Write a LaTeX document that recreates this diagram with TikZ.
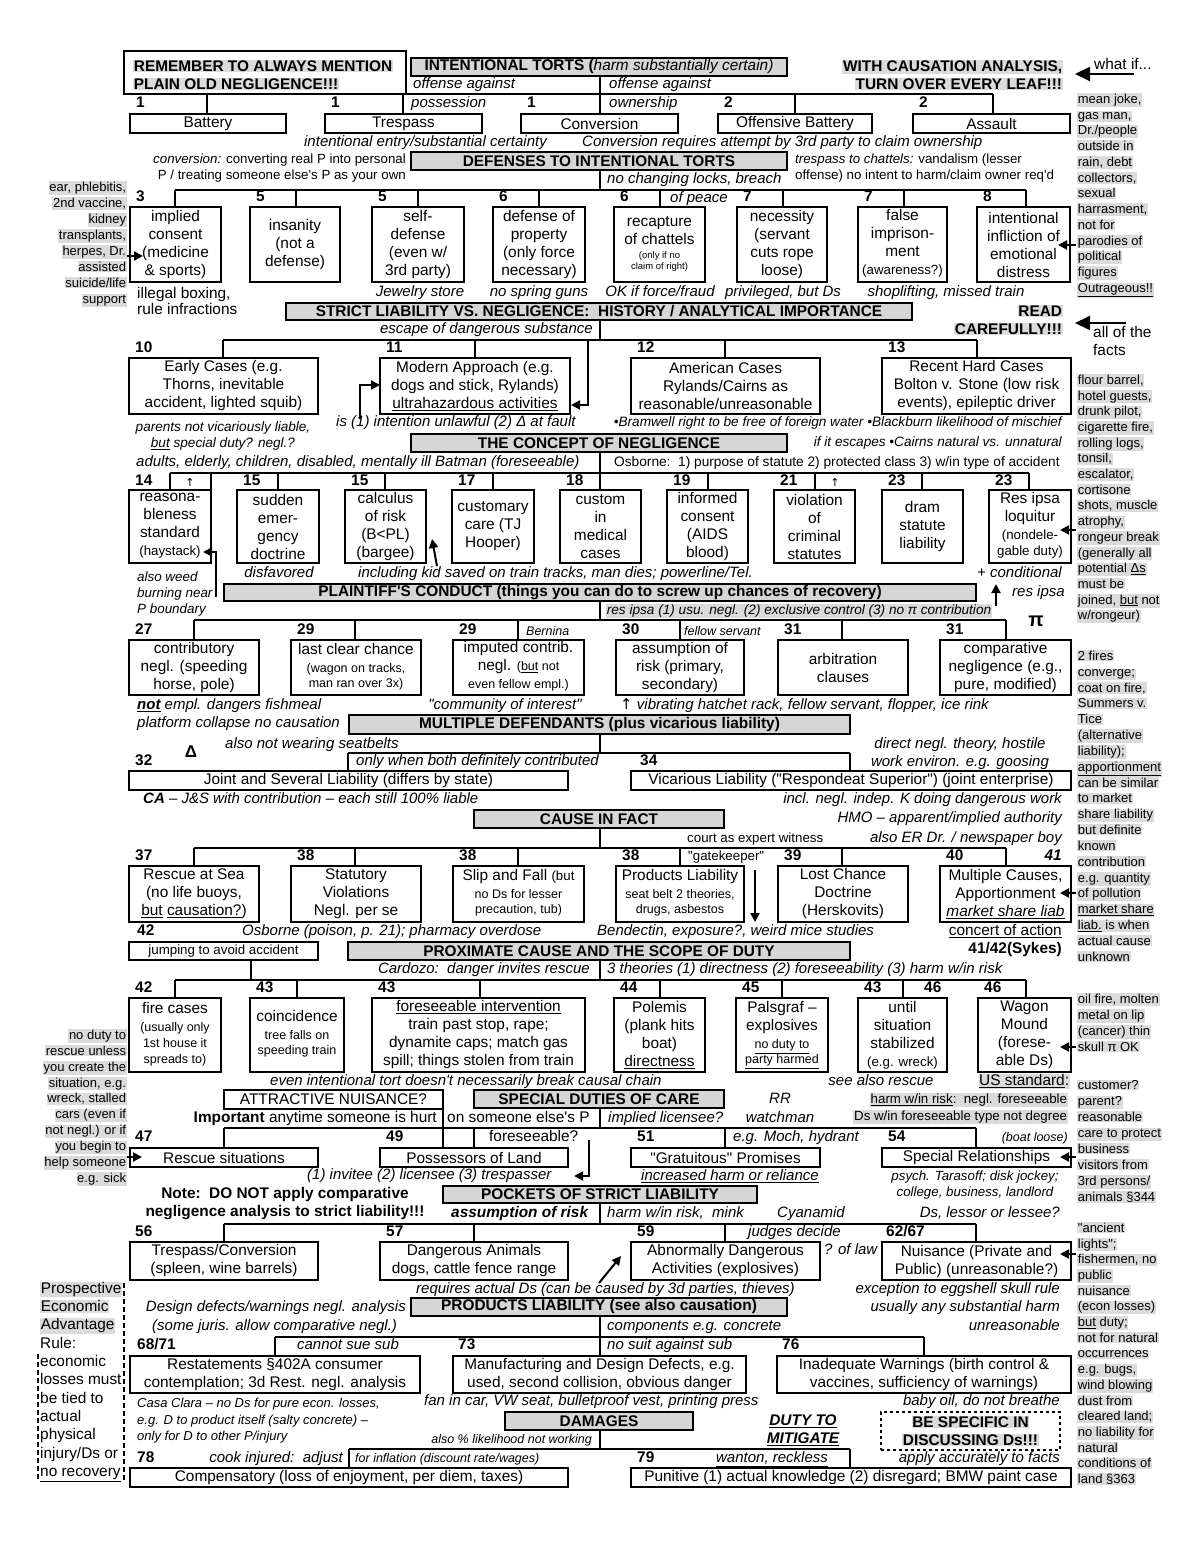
\documentclass[tikz,border=0pt]{standalone}
\usepackage{fontspec}
\setmainfont{Liberation Sans}
\newfontfamily\mydjv{DejaVu Sans}
\usetikzlibrary{arrows.meta}
\definecolor{hdr}{gray}{0.84}
\definecolor{hlg}{gray}{0.86}
\newcommand{\myfs}{\fontsize{15.4bp}{18bp}\selectfont}
\newcommand{\myfsi}{\fontsize{15bp}{18bp}\selectfont\itshape}
\newcommand{\myfsm}{\fontsize{12.5bp}{15bp}\selectfont}
\newcommand{\myfsk}{\fontsize{13.6bp}{16bp}\selectfont}
\newcommand{\myfsn}{\fontsize{13.3bp}{16bp}\selectfont}
\newcommand{\myfst}{\fontsize{9.5bp}{11bp}\selectfont}
\newcommand{\myfsr}{\fontsize{13bp}{15.7bp}\selectfont}
\newcommand{\hlt}[1]{{\setlength{\fboxsep}{0.7bp}\colorbox{hlg}{#1}}}
\newcommand{\uln}[1]{\underline{#1}}
\newcommand{\uparr}{{\mydjv ↑}}
\newcommand{\mysubstk}[2]{{#1\begin{tabular}[t]{@{}c@{}}#2\end{tabular}}}
\newcounter{lbc}
\newcommand{\mybx}[6]{\node[bxs, minimum width={(#4-#2)*1bp}, minimum height={(#5-#3)*1bp}] (#1) at ({(#2+#4)/2},{(#3+#5)/2}) {#6};}
\newcommand{\myhd}[6]{\node[hds, minimum width={(#4-#2)*1bp}, minimum height={(#5-#3)*1bp}] (#1) at ({(#2+#4)/2},{(#3+#5)/2}) {#6};}
\newcommand{\mylab}[4]{\stepcounter{lbc}\node[lab, anchor=#1] (lb\arabic{lbc}) at (#2,#3) {#4};}
\newcommand{\myup}[4]{\stepcounter{lbc}\node[labu, anchor=#1] (lb\arabic{lbc}) at (#2,#3) {#4};}
\newcommand{\mynm}[3]{\stepcounter{lbc}\node[num] (nm\arabic{lbc}) at (#1,#2) {#3};}
\newcommand{\myvl}[3]{\draw[ln] (#1,#2) -- (#1,#3);}
\newcommand{\myhz}[3]{\draw[ln] (#2,#1) -- (#3,#1);}
\newcommand{\mynotes}[6]{\foreach \myt [count=\myi from 0] in {#6} {\stepcounter{lbc}\node[inner sep=0pt, anchor=#1, font=#5, text height=9.5bp, text depth=2.8bp] (nt\arabic{lbc}) at (#2,{#3+\myi*#4}) {\hlt{\myt}};}}
\newcommand{\mynotesp}[6]{\foreach \myt [count=\myi from 0] in {#6} {\stepcounter{lbc}\node[inner sep=0pt, anchor=#1, font=#5, text height=9.5bp, text depth=2.8bp] (nt\arabic{lbc}) at (#2,{#3+\myi*#4}) {\myt};}}
\begin{document}
\begin{tikzpicture}[x=1bp,y=-1bp, >={Triangle[length=9bp,width=9bp]},
 bxs/.style={draw, line width=2.3bp, inner sep=0pt, align=center, font=\myfs},
 hds/.style={draw, line width=2.7bp, fill=hdr, inner sep=0pt, align=center, font=\myfs\bfseries},
 lab/.style={inner sep=0pt, font=\myfsi, text height=10.5bp, text depth=3bp},
 labu/.style={inner sep=0pt, font=\myfs, text height=10.5bp, text depth=3bp},
 num/.style={inner sep=0pt, font=\myfs\bfseries, anchor=west, text height=10.5bp, text depth=3bp},
 ln/.style={line width=2bp},
 bigarrow/.style={line width=2bp, -{Triangle[length=15bp,width=14bp]}}]
\useasboundingbox[fill=white] (0,0) rectangle (1200,1553);

% ===== INTENTIONAL TORTS =====
\mybx{remember}{124}{51}{406}{94}{}
\node[inner sep=0pt, anchor=west, align=left, font=\myfs\bfseries] (remtxt) at (133,75) {\hlt{REMEMBER TO ALWAYS MENTION}\\\hlt{PLAIN OLD NEGLIGENCE!!!}};
\myhd{it}{411}{58}{787}{76}{INTENTIONAL TORTS (\textit{\mdseries harm substantially certain)}}
\node[inner sep=0pt, anchor=east, align=right, font=\myfs\bfseries] (wca) at (1063,75) {\hlt{WITH CAUSATION ANALYSIS,}\\\hlt{TURN OVER EVERY LEAF!!!}};
\myup{west}{1094}{66}{what if...}
\draw[bigarrow] (1134,74) -- (1075,74);
\mylab{west}{413}{85}{offense against}
\mylab{west}{609}{85}{offense against}
\myhz{94}{406}{993}
\myvl{207}{94}{114}\myvl{403}{94}{114}\myvl{600}{76}{114}\myvl{795}{94}{114}\myvl{993}{94}{114}
\mynm{136}{104}{1}\mynm{331}{104}{1}\mynm{527}{104}{1}\mynm{724}{104}{2}\mynm{919}{104}{2}
\mylab{west}{411}{104}{possession}
\mylab{west}{609}{104}{ownership}
\mybx{battery}{130}{114}{286}{133}{Battery}
\mybx{trespass}{325}{114}{482}{133}{Trespass}
\mybx{conversion}{521}{114}{678}{133}{Conversion}
\mybx{offbat}{718}{114}{872}{133}{Offensive Battery}
\mybx{assault}{913}{114}{1070}{133}{Assault}
\mylab{east}{547}{143}{intentional entry/substantial certainty}
\mylab{west}{582}{143}{Conversion requires attempt by 3rd party to claim ownership}

% ===== DEFENSES =====
\node[inner sep=0pt, anchor=east, align=right, font=\myfsn] (convnote) at (406,168) {\textit{conversion:} converting real P into personal\\P / treating someone else\textquotesingle s P as your own};
\myhd{def}{411}{152}{787}{170}{DEFENSES TO INTENTIONAL TORTS}
\node[inner sep=0pt, anchor=west, align=left, font=\myfsn] (trespnote) at (795,168) {\textit{trespass to chattels:} vandalism (lesser\\offense) no intent to harm/claim owner req\textquotesingle d};
\myvl{600}{170}{190}
\mylab{west}{607}{180}{no changing locks, breach}
\myhz{190}{175}{1026}
\myvl{175}{190}{207}\myvl{296}{190}{207}\myvl{418}{190}{207}\myvl{539}{190}{207}\myvl{660}{190}{207}\myvl{783}{190}{207}\myvl{904}{190}{207}\myvl{1026}{190}{207}
\mylab{west}{670}{199}{of peace}
\mynm{136}{198}{3}\mynm{256}{198}{5}\mynm{378}{198}{5}\mynm{499}{198}{6}\mynm{620}{198}{6}\mynm{743}{198}{7}\mynm{864}{198}{7}\mynm{983}{198}{8}
\mybx{implied}{130}{207}{221}{282}{implied\\consent\\(medicine\\\& sports)}
\mybx{insanity}{250}{207}{340}{282}{insanity\\(not a\\defense)}
\mybx{selfdef}{372}{207}{464}{282}{self-\\defense\\(even w/\\3rd party)}
\mybx{defprop}{493}{207}{585}{282}{defense of\\property\\(only force\\necessary)}
\mybx{recapture}{614}{207}{705}{282}{recapture\\of chattels\\[-4bp]\mysubstk{\myfst}{(only if no\\claim of right)}}
\mybx{necessity}{737}{207}{827}{282}{necessity\\(servant\\cuts rope\\loose)}
\mybx{falseimp}{858}{207}{947}{282}{false\\imprison-\\ment\\\mysubstk{\myfsn}{(awareness?)}}
\mybx{iied}{977}{207}{1070}{282}{intentional\\infliction of\\emotional\\distress}
\draw[ln,->] (126,256) -- (143,256);
\draw[ln,->] (1076,245) -- (1058,245);
\node[inner sep=0pt, anchor=west, align=left, font=\fontsize{15.4bp}{16bp}\selectfont] (boxing) at (137,301) {illegal boxing,\\rule infractions};
\mylab{center}{420}{293}{Jewelry store}
\mylab{center}{539}{293}{no spring guns}
\mylab{center}{660}{293}{OK if force/fraud}
\mylab{center}{783}{293}{privileged, but Ds}
\mylab{center}{946}{293}{shoplifting, missed train}

% ===== STRICT LIABILITY VS NEGLIGENCE =====
\myhd{slneg}{286}{303}{912}{320}{STRICT LIABILITY VS. NEGLIGENCE:\ \ HISTORY / ANALYTICAL IMPORTANCE}
\node[inner sep=0pt, anchor=east, align=right, font=\myfs\bfseries] (readc) at (1063,320) {\hlt{READ}\\\hlt{CAREFULLY!!!}};
\draw[bigarrow] (1126,323) -- (1075,323);
\node[inner sep=0pt, anchor=west, align=left, font=\myfs] (allfacts) at (1093,341) {all of the\\facts};
\mylab{east}{593}{330}{escape of dangerous substance}
\myvl{600}{320}{340}
\myhz{340}{223}{977}
\myvl{223}{340}{358}\myvl{475}{340}{358}\myvl{725}{340}{358}\myvl{977}{340}{358}
\mynm{135}{349}{10}\mynm{386}{349}{11}\mynm{637}{349}{12}\mynm{888}{349}{13}
\mybx{early}{129}{358}{318}{414}{Early Cases (e.g.\\Thorns, inevitable\\accident, lighted squib)}
\mybx{modern}{380}{358}{570}{414}{Modern Approach (e.g.\\dogs and stick, Rylands)\\\uln{ultrahazardous activities}}
\mybx{american}{631}{358}{820}{414}{American Cases\\Rylands/Cairns as\\reasonable/unreasonable}
\mybx{recent}{882}{358}{1071}{414}{Recent Hard Cases\\Bolton v. Stone (low risk\\events), epileptic driver}
\draw[ln,->] (588,340) -- (588,405) -- (571,405);
\draw[ln,->] (360,419) -- (360,385) -- (380,385);
\node[inner sep=0pt, align=center, font=\fontsize{13.6bp}{15.5bp}\selectfont\itshape] (parents) at (223,436) {parents not vicariously liable,\\\uln{but} special duty? negl.?};
\mylab{west}{336}{423}{is (1) intention unlawful (2) Δ at fault}
\node[inner sep=0pt, anchor=east, font=\myfsk\itshape] (bram) at (1062,423) {•Bramwell right to be free of foreign water •Blackburn likelihood of mischief};
\myhd{concept}{411}{434}{787}{452}{THE CONCEPT OF NEGLIGENCE}
\node[inner sep=0pt, anchor=east, font=\myfsk\itshape] (escapes) at (1062,443) {if it escapes •Cairns natural vs. unnatural};
\mylab{west}{136}{463}{adults, elderly, children, disabled, mentally ill Batman (foreseeable)}
\myvl{600}{452}{490}
\node[inner sep=0pt, anchor=west, font=\fontsize{13.7bp}{16bp}\selectfont] (osborne) at (614,463) {Osborne:\ \ 1) purpose of statute 2) protected class 3) w/in type of accident};
\myhz{473}{170}{1029}
\myvl{170}{473}{490}\myvl{211}{473}{490}\myvl{278}{473}{490}\myvl{385}{473}{490}\myvl{493}{473}{490}\myvl{708}{473}{490}\myvl{815}{473}{490}\myvl{922}{473}{490}\myvl{1029}{473}{490}
\node[inner sep=0pt, font=\fontsize{11bp}{11bp}\selectfont] (up1) at (190,482) {\uparr};
\node[inner sep=0pt, font=\fontsize{11bp}{11bp}\selectfont] (up2) at (835,482) {\uparr};
\mynm{135}{482}{14}\mynm{243}{482}{15}\mynm{351}{482}{15}\mynm{458}{482}{17}\mynm{566}{482}{18}\mynm{673}{482}{19}\mynm{780}{482}{21}\mynm{888}{482}{23}\mynm{995}{482}{23}
\mybx{reason}{129}{490}{211}{563}{reasona-\\bleness\\standard\\\mysubstk{\myfsn}{(haystack)}}
\mybx{sudden}{237}{490}{319}{563}{sudden\\emer-\\gency\\doctrine}
\mybx{calculus}{345}{490}{426}{563}{calculus\\of risk\\(B<PL)\\(bargee)}
\mybx{customary}{452}{490}{534}{563}{customary\\care (TJ\\Hooper)}
\mybx{custom}{560}{490}{641}{563}{custom\\in\\medical\\cases}
\mybx{informed}{667}{490}{748}{563}{informed\\consent\\(AIDS\\blood)}
\mybx{violation}{774}{490}{855}{563}{violation\\of\\criminal\\statutes}
\mybx{dram}{882}{490}{963}{563}{dram\\statute\\liability}
\mybx{resipsa}{989}{490}{1071}{563}{Res ipsa\\loquitur\\\mysubstk{\myfsn}{(nondele-\\gable duty)}}
\draw[ln,->] (216,597) -- (216,552) -- (203,552);
\draw[ln,->] (437,566) -- (432,539);
\draw[ln,->] (1076,530) -- (1060,530);
\mylab{center}{279}{574}{disfavored}
\mylab{west}{358}{574}{including kid saved on train tracks, man dies; powerline/Tel.}
\mylab{east}{1062}{574}{+ conditional}
\node[inner sep=0pt, anchor=west, align=left, font=\fontsize{13.4bp}{16bp}\selectfont\itshape] (weed) at (137,594) {also weed\\burning near\\P boundary};

% ===== PLAINTIFF'S CONDUCT =====
\myhd{pc}{224}{584}{976}{601}{PLAINTIFF\textquotesingle S CONDUCT (things you can do to screw up chances of recovery)}
\draw[ln,->] (996,606) -- (996,584);
\mylab{west}{1012}{593}{res ipsa}
\myvl{600}{601}{620}
\node[inner sep=0.7bp, anchor=west, fill=hlg, font=\myfsk\itshape] (resnote) at (606,611) {res ipsa (1) usu. negl. (2) exclusive control (3) no π contribution};
\node[inner sep=0pt, font=\fontsize{20bp}{20bp}\selectfont\bfseries] (pisym) at (1036,621) {π};
\myhz{620}{194}{1006}
\myvl{194}{620}{640}\myvl{355}{620}{640}\myvl{518}{620}{640}\myvl{680}{620}{640}\myvl{842}{620}{640}\myvl{1006}{620}{640}
\mynm{135}{631}{27}\mynm{297}{631}{29}\mynm{459}{631}{29}\mynm{622}{631}{30}\mynm{784}{631}{31}\mynm{946}{631}{31}
\node[inner sep=0pt, anchor=west, font=\myfsm\itshape] (bernina) at (526,631) {Bernina};
\node[inner sep=0pt, anchor=west, font=\myfsm\itshape] (fellow) at (684,631) {fellow servant};
\mybx{contrib}{129}{640}{259}{695}{contributory\\negl. (speeding\\horse, pole)}
\mybx{lastclear}{291}{640}{421}{695}{last clear chance\\\mysubstk{\myfsm}{(wagon on tracks,\\man ran over 3x)}}
\mybx{imputed}{453}{640}{584}{695}{imputed contrib.\\negl. {\myfsm(\uln{but} not}\\\mysubstk{\myfsm}{even fellow empl.)}}
\mybx{assumption}{616}{640}{744}{695}{assumption of\\risk (primary,\\secondary)}
\mybx{arbitration}{778}{640}{908}{695}{arbitration\\clauses}
\mybx{comparative}{940}{640}{1071}{695}{comparative\\negligence (e.g.,\\pure, modified)}
\node[inner sep=0pt, anchor=west, align=left, font=\myfsi] (fishmeal) at (137,715) {\uln{\textbf{not}} empl. dangers fishmeal\\platform collapse no causation};
\mylab{center}{505}{706}{\textquotedbl community of interest\textquotedbl}
\mylab{west}{620}{706}{\uparr\ vibrating hatchet rack, fellow servant, flopper, ice rink}

% ===== MULTIPLE DEFENDANTS =====
\myhd{md}{349}{715}{850}{734}{MULTIPLE DEFENDANTS (plus vicarious liability)}
\mylab{west}{225}{745}{also not wearing seatbelts}
\node[inner sep=0pt, font=\fontsize{17bp}{17bp}\selectfont\bfseries] (delta) at (191,752) {Δ};
\myvl{600}{734}{753}
\node[inner sep=0pt, align=center, font=\myfsi] (direct) at (960,754) {direct negl. theory, hostile\\work environ. e.g. goosing};
\myhz{753}{348}{850}
\myvl{348}{753}{771}\myvl{850}{753}{771}
\mynm{135}{762}{32}\mynm{640}{762}{34}
\mylab{west}{356}{762}{only when both definitely contributed}
\mybx{joint}{129}{771}{568}{790}{Joint and Several Liability (differs by state)}
\mybx{vicarious}{631}{771}{1071}{790}{Vicarious Liability (\textquotedbl Respondeat Superior\textquotedbl) (joint enterprise)}
\mylab{west}{143}{800}{\textbf{CA} -- J\&S with contribution -- each still 100\% liable}
\mylab{east}{1062}{800}{incl. negl. indep. K doing dangerous work}

% ===== CAUSE IN FACT =====
\myhd{cif}{474}{810}{724}{828}{CAUSE IN FACT}
\mylab{east}{1062}{819}{HMO -- apparent/implied authority}
\node[inner sep=0pt, anchor=west, font=\myfsn] (court) at (687,839) {court as expert witness};
\mylab{east}{1062}{839}{also ER Dr. / newspaper boy}
\myvl{600}{828}{848}
\myhz{848}{194}{1006}
\myvl{194}{848}{866}\myvl{355}{848}{866}\myvl{518}{848}{866}\myvl{680}{848}{866}\myvl{842}{848}{866}\myvl{1006}{848}{866}
\mynm{135}{857}{37}\mynm{297}{857}{38}\mynm{459}{857}{38}\mynm{622}{857}{38}\mynm{784}{857}{39}\mynm{946}{857}{40}
\node[inner sep=0pt, anchor=east, font=\myfs\bfseries\itshape, text height=10.5bp, text depth=3bp] (n41) at (1062,857) {41};
\node[inner sep=0pt, anchor=west, font=\myfsn] (gatek) at (688,857) {\textquotedbl gatekeeper\textquotedbl};
\mybx{rescsea}{129}{866}{259}{922}{Rescue at Sea\\(no life buoys,\\\uln{but} \uln{causation?})}
\mybx{statviol}{291}{866}{421}{922}{Statutory\\Violations\\Negl. per se}
\mybx{slip}{453}{866}{584}{922}{Slip and Fall {\myfsn(but}\\\mysubstk{\myfsm}{no Ds for lesser\\precaution, tub)}}
\mybx{prodliab}{616}{866}{744}{922}{Products Liability\\\mysubstk{\myfsm}{seat belt 2 theories,\\drugs, asbestos}}
\mybx{lostchance}{778}{866}{908}{922}{Lost Chance\\Doctrine\\(Herskovits)}
\mybx{multcause}{940}{866}{1071}{922}{Multiple Causes,\\Apportionment\\\textit{\uln{market share liab}}}
\draw[ln,->] (755,870) -- (755,922);
\draw[ln,->] (1076,893) -- (1060,893);
\mynm{137}{932}{42}
\mylab{west}{242}{932}{Osborne (poison, p. 21); pharmacy overdose}
\mylab{west}{597}{932}{Bendectin, exposure?, weird mice studies}
\myup{east}{1062}{932}{\uln{concert of action}}

% ===== PROXIMATE CAUSE =====
\mybx{jumping}{129}{942}{318}{960}{{\myfsn jumping to avoid accident}}
\myhd{pcsod}{348}{942}{850}{960}{PROXIMATE CAUSE AND THE SCOPE OF DUTY}
\node[inner sep=0pt, anchor=east, font=\myfs\bfseries] (sykes) at (1062,950) {41/42(Sykes)};
\myvl{251}{960}{980}\myvl{600}{960}{980}
\mylab{east}{590}{970}{Cardozo:\ \ danger invites rescue}
\mylab{west}{607}{970}{3 theories (1) directness (2) foreseeability (3) harm w/in risk}
\myhz{980}{175}{1026}
\myvl{175}{980}{998}\myvl{297}{980}{998}\myvl{480}{980}{998}\myvl{660}{980}{998}\myvl{782}{980}{998}\myvl{903}{980}{998}\myvl{1026}{980}{998}
\mynm{135}{989}{42}\mynm{256}{989}{43}\mynm{378}{989}{43}\mynm{620}{989}{44}\mynm{742}{989}{45}\mynm{864}{989}{43}\mynm{924}{989}{46}\mynm{984}{989}{46}
\mybx{fire}{129}{998}{221}{1072}{fire cases\\\mysubstk{\fontsize{12.5bp}{16bp}\selectfont}{(usually only\\1st house it\\spreads to)}}
\mybx{coinc}{250}{998}{344}{1072}{coincidence\\\mysubstk{\myfsm}{tree falls on\\speeding train}}
\mybx{foresee}{372}{998}{585}{1072}{\uln{foreseeable intervention}\\train past stop, rape;\\dynamite caps; match gas\\spill; things stolen from train}
\mybx{polemis}{614}{998}{705}{1072}{Polemis\\(plank hits\\boat)\\\uln{directness}}
\mybx{palsgraf}{736}{998}{828}{1072}{Palsgraf --\\explosives\\\mysubstk{\myfsm}{\uln{no duty to}\\\uln{party harmed}}}
\mybx{until}{858}{998}{947}{1072}{until\\situation\\stabilized\\{\myfsn(e.g. wreck)}}
\mybx{wagon}{978}{998}{1071}{1072}{Wagon\\Mound\\(forese-\\able Ds)}
\draw[ln,->] (1076,1047) -- (1060,1047);
\mylab{west}{270}{1082}{even intentional tort doesn\textquotesingle t necessarily break causal chain}
\mylab{center}{881}{1082}{see also rescue}
\myup{east}{1070}{1082}{\hlt{\uln{US standard}:}}

% ===== SPECIAL DUTIES =====
\mybx{attr}{224}{1090}{443}{1109}{ATTRACTIVE NUISANCE?}
\myhd{sdc}{474}{1090}{724}{1108}{SPECIAL DUTIES OF CARE}
\mylab{center}{780}{1100}{RR}
\mylab{center}{780}{1119}{watchman}
\node[inner sep=0pt, anchor=east, font=\myfsn] (harmrisk) at (1068,1100) {\hlt{\uln{harm w/in risk}:\ \ negl. foreseeable}};
\node[inner sep=0pt, anchor=east, font=\myfsn] (dswin) at (1068,1117) {\hlt{Ds w/in foreseeable type not degree}};
\myup{east}{437}{1119}{\textbf{Important} anytime someone is hurt}
\myup{west}{447}{1119}{on someone else\textquotesingle s P}
\mylab{west}{608}{1119}{implied licensee?}
\myvl{443}{1109}{1148}\myvl{600}{1108}{1128}
\myhz{1128}{224}{976}
\myvl{224}{1128}{1148}\myvl{474}{1128}{1148}\myvl{725}{1128}{1148}\myvl{976}{1128}{1148}
\mynm{135}{1138}{47}\mynm{386}{1138}{49}\mynm{637}{1138}{51}\mynm{888}{1138}{54}
\myup{west}{489}{1138}{foreseeable?}
\mylab{west}{733}{1138}{e.g. Moch, hydrant}
\node[inner sep=0pt, anchor=east, font=\myfsm\itshape] (boatloose) at (1068,1138) {(boat loose)};
\mybx{rescue}{130}{1148}{318}{1167}{Rescue situations}
\mybx{possess}{380}{1148}{568}{1167}{Possessors of Land}
\mybx{gratuit}{631}{1148}{820}{1167}{\textquotedbl Gratuitous\textquotedbl\ Promises}
\mybx{specrel}{882}{1148}{1071}{1167}{Special Relationships}
\draw[ln,->] (589,1140) -- (589,1176) -- (574,1176);
\draw[ln,->] (126,1157) -- (142,1157);
\draw[ln,->] (1076,1157) -- (1060,1157);
\mylab{west}{307}{1176}{(1) invitee (2) licensee (3) trespasser}
\mylab{center}{730}{1177}{\uln{increased harm or reliance}}
\node[inner sep=0pt, align=center, font=\myfsn\itshape] (psych) at (975,1185) {psych. Tarasoff; disk jockey;\\college, business, landlord};
\node[inner sep=0pt, align=center, font=\myfs\bfseries] (note) at (285,1204) {Note:\ \ DO NOT apply comparative\\negligence analysis to strict liability!!!};

% ===== POCKETS OF STRICT LIABILITY =====
\myhd{posl}{443}{1186}{757}{1203}{POCKETS OF STRICT LIABILITY}
\node[inner sep=0pt, anchor=west, font=\myfs\bfseries\itshape] (assumrisk) at (451,1214) {assumption of risk};
\myvl{600}{1203}{1224}
\mylab{west}{607}{1214}{harm w/in risk,\ \ mink}
\mylab{center}{811}{1214}{Cyanamid}
\mylab{east}{1060}{1214}{Ds, lessor or lessee?}
\myhz{1224}{224}{976}
\myvl{224}{1224}{1242}\myvl{474}{1224}{1242}\myvl{725}{1224}{1242}\myvl{976}{1224}{1242}
\mynm{135}{1233}{56}\mynm{386}{1233}{57}\mynm{637}{1233}{59}\mynm{886}{1233}{62/67}
\mylab{west}{748}{1233}{judges decide}
\mylab{west}{824}{1251}{? of law}
\mybx{trespconv}{130}{1242}{318}{1280}{Trespass/Conversion\\(spleen, wine barrels)}
\mybx{danganim}{380}{1242}{568}{1280}{Dangerous Animals\\dogs, cattle fence range}
\mybx{abnorm}{631}{1242}{820}{1280}{Abnormally Dangerous\\Activities (explosives)}
\mybx{nuisance}{882}{1242}{1071}{1280}{Nuisance (Private and\\Public) (unreasonable?)}
\draw[ln,->] (599,1283) -- (621,1256);
\draw[ln,->] (1076,1254) -- (1060,1254);
\mylab{west}{416}{1290}{requires actual Ds (can be caused by 3d parties, thieves)}
\mylab{east}{1060}{1290}{exception to eggshell skull rule}

% ===== PRODUCTS LIABILITY =====
\mylab{east}{406}{1308}{Design defects/warnings negl. analysis}
\myhd{pl}{411}{1298}{787}{1316}{PRODUCTS LIABILITY (see also causation)}
\mylab{east}{1060}{1308}{usually any substantial harm}
\mylab{west}{152}{1327}{(some juris. allow comparative negl.)}
\myvl{600}{1316}{1356}
\mylab{west}{607}{1327}{components e.g. concrete}
\mylab{east}{1060}{1327}{unreasonable}
\myhz{1337}{275}{924}
\myvl{275}{1337}{1356}\myvl{924}{1337}{1356}
\mynm{137}{1346}{68/71}\mynm{458}{1346}{73}\mynm{782}{1346}{76}
\mylab{center}{348}{1346}{cannot sue sub}
\mylab{west}{607}{1346}{no suit against sub}
\mybx{restate}{130}{1356}{420}{1393}{Restatements §402A consumer\\contemplation; 3d Rest. negl. analysis}
\mybx{manuf}{453}{1356}{746}{1393}{Manufacturing and Design Defects, e.g.\\used, second collision, obvious danger}
\mybx{inadeq}{777}{1356}{1071}{1393}{Inadequate Warnings (birth control \&\\vaccines, sufficiency of warnings)}
\node[inner sep=0pt, anchor=west, align=left, font=\fontsize{13bp}{16.5bp}\selectfont\itshape] (casa) at (137,1421) {Casa Clara -- no Ds for pure econ. losses,\\e.g. D to product itself (salty concrete) --\\only for D to other P/injury};
\mylab{west}{424}{1402}{fan in car, VW seat, bulletproof vest, printing press}
\mylab{east}{1060}{1402}{baby oil, do not breathe}

% ===== DAMAGES =====
\myhd{damages}{505}{1412}{693}{1430}{DAMAGES}
\node[inner sep=0pt, align=center, font=\myfs\bfseries\itshape] (mitig) at (803,1430) {\uln{DUTY TO}\\\uln{MITIGATE}};
\node[draw, line width=2bp, dash pattern=on 3bp off 3bp, inner sep=0pt, minimum width=179bp, minimum height=38bp, align=center, font=\myfs\bfseries] (bespec) at (970.5,1431) {\hlt{BE SPECIFIC IN}\\\hlt{DISCUSSING Ds!!!}};
\node[inner sep=0pt, anchor=east, font=\myfsm\itshape] (pctlike) at (592,1440) {also \% likelihood not working};
\myvl{600}{1430}{1449}
\myhz{1449}{349}{850}
\myvl{349}{1449}{1468}\myvl{850}{1449}{1468}
\mynm{137}{1459}{78}\mynm{637}{1459}{79}
\mylab{east}{343}{1459}{cook injured:\ \ adjust}
\node[inner sep=0pt, anchor=west, font=\myfsm\itshape] (inflation) at (355,1459) {for inflation (discount rate/wages)};
\mylab{center}{772}{1459}{\uln{wanton, reckless}}
\mylab{east}{1060}{1459}{apply accurately to facts}
\mybx{compens}{130}{1468}{568}{1487}{Compensatory (loss of enjoyment, per diem, taxes)}
\mybx{punitive}{631}{1468}{1071}{1487}{Punitive (1) actual knowledge (2) disregard; BMW paint case}

% ===== SIDE NOTES =====
\mynotes{west}{1077}{100}{15.75}{\myfsr}{{mean joke,},{gas man,},{Dr./people},{outside in},{rain, debt},{collectors,},{sexual},{harrasment,},{not for},{parodies of},{political},{figures},{\uln{Outrageous!!}}}
\mynotes{west}{1077}{381}{15.7}{\myfsr}{{flour barrel,},{hotel guests,},{drunk pilot,},{cigarette fire,},{rolling logs,},{tonsil,},{escalator,},{cortisone},{shots, muscle},{atrophy,},{rongeur break},{(generally all},{potential \uln{Δs}},{must be},{joined, \uln{but} not},{w/rongeur)}}
\mynotes{west}{1077}{657}{15.84}{\myfsr}{{2 fires},{converge;},{coat on fire,},{Summers v.},{Tice},{(alternative},{liability);},{\uln{apportionment}},{can be similar},{to market},{share liability},{but definite},{known},{contribution},{e.g. quantity},{of pollution},{\uln{market share}},{\uln{liab.} is when},{actual cause},{unknown}}
\mynotes{west}{1077}{1000}{16}{\myfsr}{{oil fire, molten},{metal on lip},{(cancer) thin},{skull π OK}}
\mynotes{west}{1077}{1086}{16}{\myfsr}{{customer?},{parent?},{reasonable},{care to protect},{business},{visitors from},{3rd persons/},{animals §344}}
\mynotes{west}{1077}{1229}{15.7}{\myfsr}{{\textquotedbl ancient},{lights\textquotedbl;},{fishermen, no},{public},{nuisance},{(econ losses)},{\uln{but} duty;},{not for natural},{occurrences},{e.g. bugs,},{wind blowing},{dust from},{cleared land;},{no liability for},{natural},{conditions of},{land §363}}
\mynotes{east}{127}{188}{16}{\myfsr}{{ear, phlebitis,},{2nd vaccine,},{kidney},{transplants,},{herpes, Dr.},{assisted},{suicide/life},{support}}
\mynotes{east}{127}{1036}{15.9}{\myfsr}{{no duty to},{rescue unless},{you create the},{situation, e.g.},{wreck, stalled},{cars (even if},{not negl.) or if},{you begin to},{help someone},{e.g. sick}}
\mynotes{west}{40}{1290}{18.3}{\myfs}{{Prospective},{Economic},{Advantage}}
\mynotesp{west}{40}{1344.9}{18.3}{\myfs}{{Rule:},{economic},{losses must},{be tied to},{actual},{physical},{injury/Ds or},{\uln{no recovery}}}
\draw[line width=1.3bp, dash pattern=on 5bp off 3bp] (124,1283) -- (124,1481);
\draw[line width=1.3bp, dash pattern=on 5bp off 3bp] (38,1354) -- (38,1481);
\end{tikzpicture}
\end{document}
